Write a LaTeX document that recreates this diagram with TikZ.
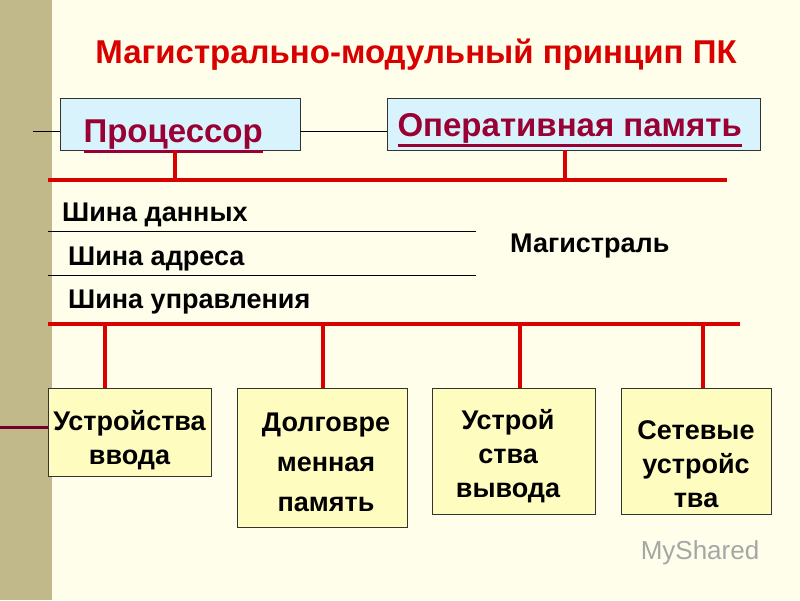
\documentclass[tikz,border=0pt]{standalone}
\usepackage{fontspec}
\setmainfont{Liberation Sans}
\newcommand{\ulx}[1]{\vtop{\hbox{#1}\kern1.5pt\hrule height 2.5pt}}
\begin{document}
\begin{tikzpicture}[x=1pt,y=-1pt,
 bus/.style={draw=red!85!black,line width=4.5pt},
 thin/.style={draw=black,line width=0.8pt},
 topbox/.style={draw=black!80,fill=cyan!15,line width=0.8pt},
 botbox/.style={draw=black!80,fill=yellow!25,line width=0.8pt},
 lbl/.style={font=\fontsize{27}{30}\selectfont\bfseries,anchor=west,inner sep=0},
 btxt/.style={font=\fontsize{27}{34}\selectfont\bfseries,align=center,inner sep=0}]
\useasboundingbox (0,0) rectangle (800,600);
\fill[yellow!8] (0,0) rectangle (800,600);
\fill[brown!45!yellow!40!gray!70] (0,0) rectangle (52,600);
\node[font=\fontsize{33}{36}\selectfont\bfseries,text=red!85!black] (title) at (416,55) {Магистрально-модульный принцип ПК};
\draw[topbox] (60,98) rectangle (300,150);
\coordinate (pl) at (60,131); \coordinate (pr) at (300,131);
\node[font=\fontsize{33}{36}\selectfont\bfseries,text=purple!80!black,anchor=base west] (cpu) at (80,142) {\ulx{Процессор}};
\draw[topbox] (387,98) rectangle (760,150);
\coordinate (ml) at (387,131);
\node[font=\fontsize{33}{36}\selectfont\bfseries,text=purple!80!black,anchor=base west] (ram) at (394,136) {\ulx{Оперативная память}};
\coordinate (ex) at (33,131);
\draw[thin] (ex) -- (pl); \draw[thin] (pr) -- (ml);
\coordinate (b1l) at (48,180); \coordinate (b1r) at (727,180);
\draw[bus] (b1l) -- (b1r);
\draw[bus] (175,150) -- (175,180);
\draw[bus] (565,150) -- (565,180);
\node[lbl] (d) at (62,215) {Шина данных};
\draw[thin] (48,231) -- (476,231);
\node[lbl] (a) at (68,259) {Шина адреса};
\draw[thin] (48,275) -- (476,275);
\node[lbl] (u) at (68,302) {Шина управления};
\node[lbl] (m) at (510,246) {Магистраль};
\draw[bus] (48,324) -- (740,324);
\foreach \x in {105,323,520,703} \draw[bus] (\x,324) -- (\x,388);
\draw[botbox] (48,388) rectangle (211,476);
\node[btxt] (n1) at (129.5,440) {Устройства\\ввода};
\draw[botbox] (237,388) rectangle (407,527);
\node[btxt,font=\fontsize{27}{40}\selectfont\bfseries] (n2) at (326,462) {Долговре\\менная\\память};
\draw[botbox] (432,388) rectangle (595,514);
\node[btxt] (n3) at (508,456) {Устрой\\ства\\вывода};
\draw[botbox] (621,388) rectangle (771,514);
\node[btxt] (n4) at (696,464) {Сетевые\\устройс\\тва};
\draw[draw=purple!60!black,line width=3pt] (0,427) -- (48,427);
\node[font=\fontsize{26}{28}\selectfont,text=gray!70] (ws) at (700,553) {MyShared};
\end{tikzpicture}
\end{document}
